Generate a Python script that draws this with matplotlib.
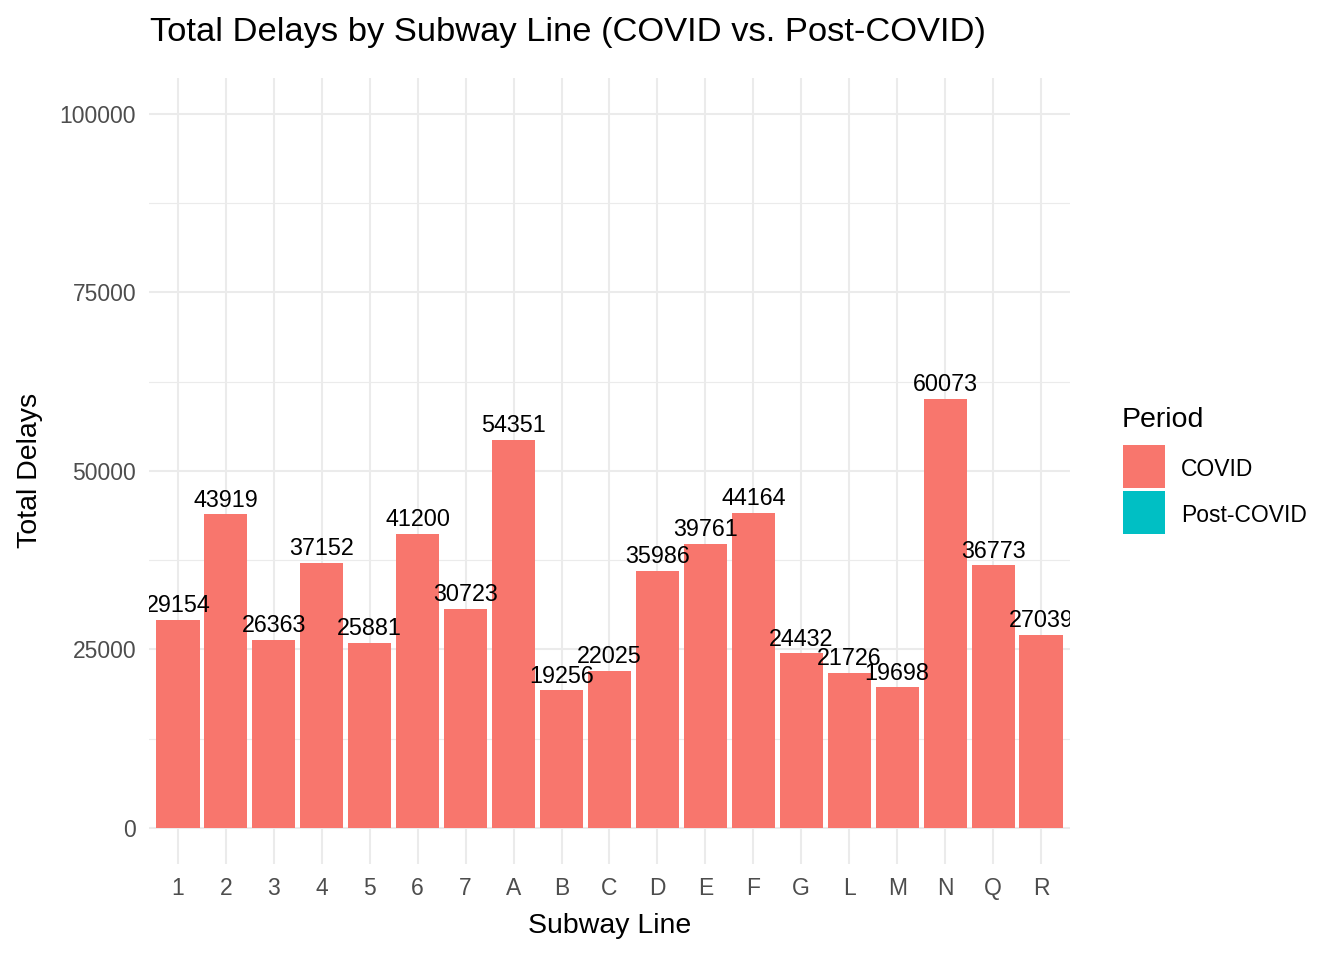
import matplotlib
matplotlib.use("Agg")
import matplotlib.pyplot as plt
from matplotlib.patches import Rectangle
import numpy as np

plt.rcParams['font.family'] = ['Liberation Sans', 'DejaVu Sans']

lines = ["1", "2", "3", "4", "5", "6", "7", "A", "B", "C", "D", "E", "F", "G", "L", "M", "N", "Q", "R"]
covid = [29154, 43919, 26363, 37152, 25881, 41200, 30723, 54351, 19256, 22025,
         35986, 39761, 44164, 24432, 21726, 19698, 60073, 36773, 27039]
periods = ["COVID", "Post-COVID"]
period_colors = ["#F8766D", "#00BFC4"]
y_ticks = [0, 25000, 50000, 75000, 100000]
y_minor = [12500, 37500, 62500, 87500]

W, H = 1344, 960
fig = plt.figure(figsize=(W / 100, H / 100), dpi=100)
fig.patch.set_facecolor("white")

left, right, top, bottom = 149.2, 1069.8, 78, 863.7
ax = fig.add_axes([left / W, 1 - bottom / H, (right - left) / W, (bottom - top) / H])
ax.set_facecolor("white")

x = np.arange(1, len(lines) + 1)
ax.set_xlim(0.4, len(lines) + 0.6)
ax.set_ylim(-5000, 105000)

# grid
for yv in y_minor:
    ax.axhline(yv, color="#EBEBEB", lw=0.8, zorder=0)
for yv in y_ticks:
    ax.axhline(yv, color="#EBEBEB", lw=1.5, zorder=0)
for xv in x:
    ax.axvline(xv, color="#EBEBEB", lw=1.5, zorder=0)

ax.bar(x, covid, width=0.9, color=period_colors[0], zorder=2)

for xi, v in zip(x, covid):
    ax.annotate(str(v), (xi, v), xytext=(0, 5.6), textcoords="offset points",
                ha="center", va="baseline", fontsize=16.8, color="black",
                annotation_clip=False, clip_on=True, zorder=3)

for s in ax.spines.values():
    s.set_visible(False)
ax.set_xticks(x)
ax.set_xticklabels(lines)
ax.set_yticks(y_ticks)
ax.set_yticklabels([str(t) for t in y_ticks])
ax.tick_params(axis="both", length=0, labelsize=16.5, labelcolor="#4D4D4D")
ax.tick_params(axis="x", pad=9.5)
ax.tick_params(axis="y", pad=9.5)

ax.set_xlabel("Subway Line", fontsize=20.5, color="black", labelpad=9.5)
ax.set_ylabel("Total Delays", fontsize=20.5, color="black", labelpad=12)

fig.text(150 / W, 1 - 41 / H, "Total Delays by Subway Line (COVID vs. Post-COVID)",
         fontsize=24.8, color="black", ha="left", va="baseline")

# legend
fig.text(1122 / W, 1 - 427 / H, "Period", fontsize=20.5, ha="left", va="baseline")
key_tops = [445, 491]
for name, col, kt in zip(periods, period_colors, key_tops):
    fig.add_artist(Rectangle((1123 / W, 1 - (kt + 43) / H), 42 / W, 43 / H,
                             transform=fig.transFigure, facecolor=col, edgecolor="none"))
    fig.text(1181 / W, 1 - (kt + 24.5) / H, name, fontsize=16.5, ha="left", va="center")

fig.savefig("out.png", dpi=100, facecolor="white")
